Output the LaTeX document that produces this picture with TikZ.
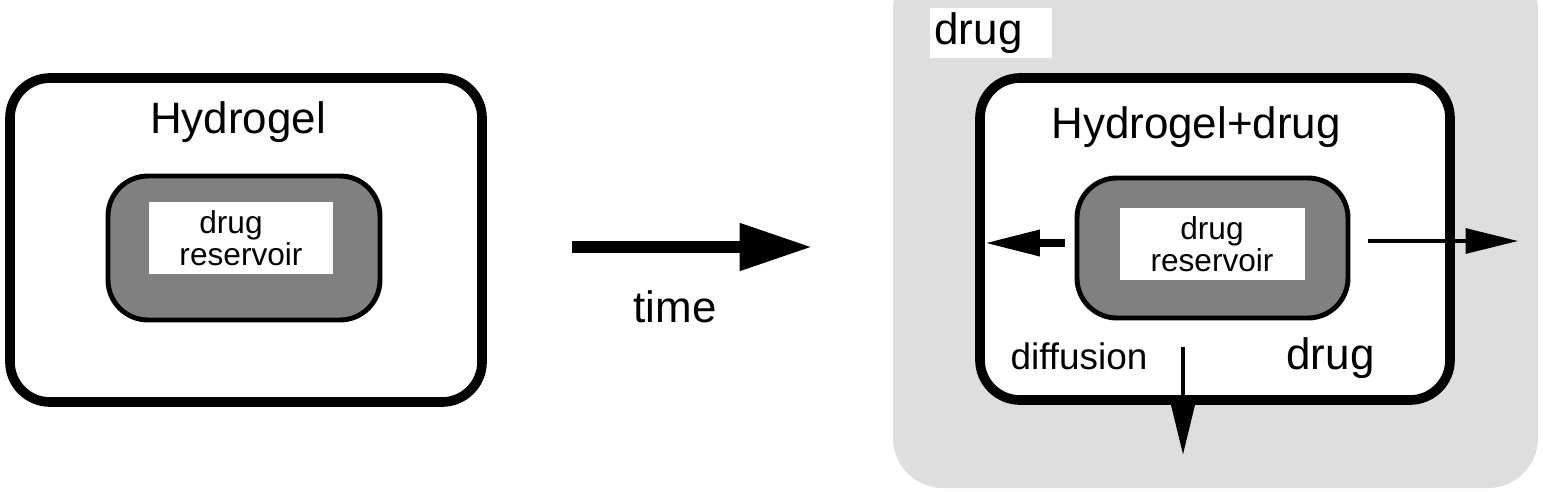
\documentclass[tikz,border=0pt]{standalone}
\usepackage{fontspec}
\setmainfont{Liberation Sans}
\usetikzlibrary{arrows.meta}
\begin{document}
\begin{tikzpicture}[x=0.02cm,y=-0.02cm,
  outer/.style={draw=black,line width=5.5pt,rounded corners=0.8cm,fill=white},
  inner/.style={draw=black,line width=2.8pt,rounded corners=0.8cm,fill=black!50},
  lbl/.style={fill=white,inner sep=0pt,align=center},
  big/.style={font=\fontsize{25}{28}\selectfont},
  small/.style={font=\fontsize{18}{18}\selectfont}]
\useasboundingbox (0,0) rectangle (1543,491);
% left
\draw[outer] (10,78) rectangle (482,402);
\draw[inner] (108,176) rectangle (380,320);
\node[lbl,small,minimum width=184*0.02cm,minimum height=72*0.02cm] (l1) at (241,238) {\hspace{-0.4cm}drug\\reservoir\hspace{0.9cm}};
\node[big] (h1) at (238,122) {Hydrogel};
% time arrow
\coordinate (ta) at (572,247);
\coordinate (tb) at (812,247);
\draw[line width=6.5pt,-{Triangle[length=1.45cm,width=0.9cm]}] (ta) -- (tb);
\node[big] (tm) at (675,307) {time};
% right
\fill[black!13,rounded corners=1cm] (893,-40) rectangle (1538,488);
\node[lbl,big,minimum width=122*0.02cm,minimum height=50*0.02cm] (d1) at (991,33) {drug\hspace{0.5cm}};
\draw[outer] (980,78) rectangle (1450,400);
\node[lbl,big,minimum width=352*0.02cm,minimum height=52*0.02cm] (h2) at (1221,127) {Hydrogel+drug\hspace{1cm}};
\draw[inner] (1077,178) rectangle (1348,318);
\node[lbl,small,minimum width=185*0.02cm,minimum height=72*0.02cm] (l2) at (1212,244) {drug\\reservoir\hspace{0.9cm}};
\coordinate (la) at (1065,243); \coordinate (lb) at (985,243);
\draw[line width=4pt,-{Triangle[length=1.1cm,width=0.5cm]}] (la) -- (lb);
\coordinate (ra) at (1368,241); \coordinate (rb) at (1518,241);
\draw[line width=1.8pt,-{Triangle[length=1.05cm,width=0.5cm]}] (ra) -- (rb);
\coordinate (da) at (1183,347); \coordinate (db) at (1183,455);
\draw[line width=2.8pt,-{Triangle[length=1.1cm,width=0.5cm]}] (da) -- (db);
\node[lbl,font=\fontsize{21}{22}\selectfont,minimum width=163*0.02cm,minimum height=45*0.02cm] (df) at (1084,356) {diffusion\hspace{0.2cm}};
\node[lbl,big,minimum width=121*0.02cm,minimum height=50*0.02cm] (d2) at (1343,358) {drug\hspace{0.5cm}};
\end{tikzpicture}
\end{document}
